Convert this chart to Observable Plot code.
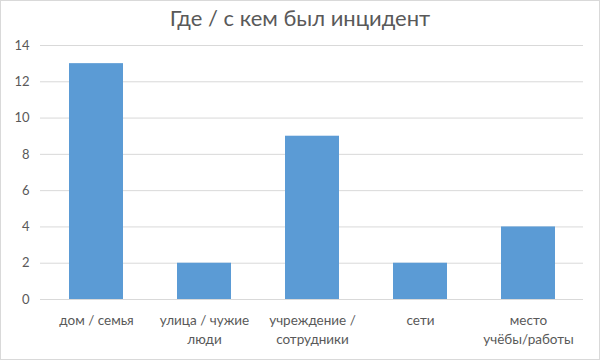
<!DOCTYPE html>
<html>
<head>
<meta charset="utf-8">
<script src="https://cdn.jsdelivr.net/npm/d3@7"></script>
<script src="https://cdn.jsdelivr.net/npm/@observablehq/plot@0.6"></script>
<style>
  html, body { margin: 0; padding: 0; background: #fff; }
  #wrap { position: relative; width: 598px; height: 358px; border: 1px solid #d9d9d9; overflow: hidden; font-family: Lato, "Open Sans", sans-serif; }
  #title { height: 34px; line-height: 34px; text-align: center; font-size: 22px; color: #595959; font-weight: 400; }
  svg { display: block; }
</style>
</head>
<body>
<div id="wrap">
  <div id="title">Где / с кем был инцидент</div>
  <div id="chart"></div>
</div>
<script>
const categories = ["дом / семья", "улица / чужие люди", "учреждение / сотрудники", "сети", "место учёбы/работы"];
const tickLabels = ["дом / семья", "улица / чужие\nлюди", "учреждение /\nсотрудники", "сети", "место\nучёбы/работы"];
const values = [13, 2, 9, 2, 4];
const yTicks = [0, 2, 4, 6, 8, 10, 12, 14];

const data = categories.map((c, i) => ({category: c, value: values[i]}));
const labelOf = new Map(categories.map((c, i) => [c, tickLabels[i]]));

const chart = Plot.plot({
  width: 598,
  height: 324,
  marginTop: 10,
  marginBottom: 60,
  marginLeft: 39,
  marginRight: 16,
  style: {fontFamily: "Lato, 'Open Sans', sans-serif", fontSize: "13px", color: "#595959", background: "#fff"},
  x: {domain: categories, paddingInner: 0.5, paddingOuter: 0.25, label: null},
  y: {domain: [0, 14], label: null},
  marks: [
    Plot.ruleY(yTicks, {stroke: "#d9d9d9", strokeWidth: 1}),
    Plot.barY(data, {x: "category", y: "value", fill: "#5B9BD5"}),
    Plot.axisY({ticks: yTicks, tickSize: 0, tickPadding: 11, label: null, fontSize: 13, fill: "#595959"}),
    Plot.axisX({tickSize: 0, tickPadding: 12, label: null, tickFormat: d => labelOf.get(d), lineHeight: 1.4, fontSize: 13.5, fill: "#595959"})
  ]
});
document.getElementById("chart").appendChild(chart);
</script>
</body>
</html>
